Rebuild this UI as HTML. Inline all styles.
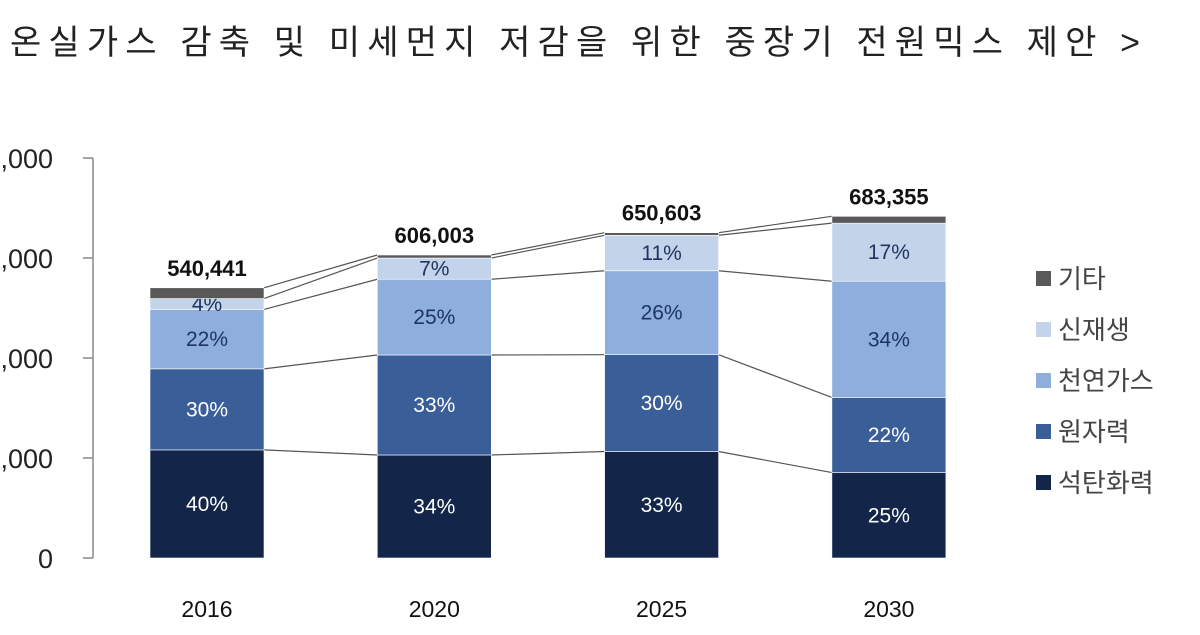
<!DOCTYPE html>
<html><head><meta charset="utf-8"><style>
body{margin:0;background:#fff;width:1200px;height:630px;overflow:hidden}
svg{font-family:"Liberation Sans","Noto Sans CJK KR",sans-serif}
</style></head><body>
<svg width="1200" height="630">
<text x="10" y="54" font-size="34" fill="#222" textLength="1130" lengthAdjust="spacing">온실가스 감축 및 미세먼지 저감을 위한 중장기 전원믹스 제안 &gt;</text>
<g id="axis"></g><g id="conn"></g><g id="bars"></g><g id="legend"></g>
</svg>
<script>
const years=["2016","2020","2025","2030"];
const totals=[540441,606003,650603,683355];
const coal=[40,34,33,25];
const nuclear=[30,33,30,22];
const gas=[22,25,26,34];
const renew=[4,7,11,17];
const yTicks=[0,200000,400000,600000,800000];
const seriesNames=["석탄화력","원자력","천연가스","신재생","기타"];
const colors=["#13264a","#3a5f98","#8eaede","#c3d3ea","#595959"];
const ns="http://www.w3.org/2000/svg";
const Y0=558,PX=100/200000,barW=114;
const y=v=>Y0-v*PX;
const xc=i=>207+i*227.3;
function mk(t,a,p,txt){const e=document.createElementNS(ns,t);for(const k in a)e.setAttribute(k,a[k]);if(txt!==undefined)e.textContent=txt;p.appendChild(e);return e;}
const ax=document.getElementById('axis'),bg=document.getElementById('bars'),cg=document.getElementById('conn'),lg=document.getElementById('legend');
const axl=mk('line',{x1:93,y1:y(yTicks[yTicks.length-1]),x2:93,y2:Y0,stroke:'#888','stroke-width':1.5},ax);


yTicks.forEach(v=>{
 const tk=mk('line',{x1:83,x2:93,y1:y(v),y2:y(v),stroke:'#888','stroke-width':1.5},ax);
 
 
 const t=mk('text',{x:53,y:y(v)+10,'font-size':27,fill:'#222','text-anchor':'end'},ax,v.toLocaleString('en-US'));
 
 
});
const bounds=[];
years.forEach((yr,i)=>{
 const sh=[coal[i],nuclear[i],gas[i],renew[i]];
 const other=Math.max(0.8,100-sh.reduce((a,b)=>a+b,0));
 const scale=100/(sh.reduce((a,b)=>a+b,0)+other);
 const vals=[...sh,other].map(s=>s*scale/100*totals[i]);
 let cum=0;const b=[0];const x0=xc(i)-barW/2;
 vals.forEach((v,k)=>{
  const top=y(cum+v),bot=y(cum);
  const r=mk('rect',{x:x0,y:top,width:barW,height:bot-top,fill:colors[k],stroke:'#fff','stroke-width':0.6},bg);
  
  
  if(k<4){const t=mk('text',{x:xc(i),y:(top+bot)/2+7,'font-size':21,'text-anchor':'middle',fill:k<2?'#fff':'#1d3560'},bg,sh[k]+'%');
  
  }
  cum+=v;b.push(cum);
 });
 bounds.push(b);
 const tl=mk('text',{x:xc(i),y:y(totals[i])-12,'font-size':22,'font-weight':'bold','text-anchor':'middle',fill:'#111'},bg,totals[i].toLocaleString('en-US'));
 
 
 const xl=mk('text',{x:xc(i),y:617,'font-size':23,'text-anchor':'middle',fill:'#111'},bg,yr);
 
 
});
for(let i=0;i<years.length-1;i++){
 for(let k=1;k<=5;k++){
  const l=mk('line',{x1:xc(i)+barW/2,y1:y(bounds[i][k]),x2:xc(i+1)-barW/2,y2:y(bounds[i+1][k]),stroke:'#555','stroke-width':1.2},cg);
  
  
 }
}
[4,3,2,1,0].forEach((k,j)=>{
 const yy=279+j*51;
 const r=mk('rect',{x:1036,y:yy-8,width:15,height:15,fill:colors[k]},lg);
 
 
 const t=mk('text',{x:1058,y:yy+9,'font-size':26,fill:'#444'},lg,seriesNames[k]);
 
 
});
</script>
</body></html>
